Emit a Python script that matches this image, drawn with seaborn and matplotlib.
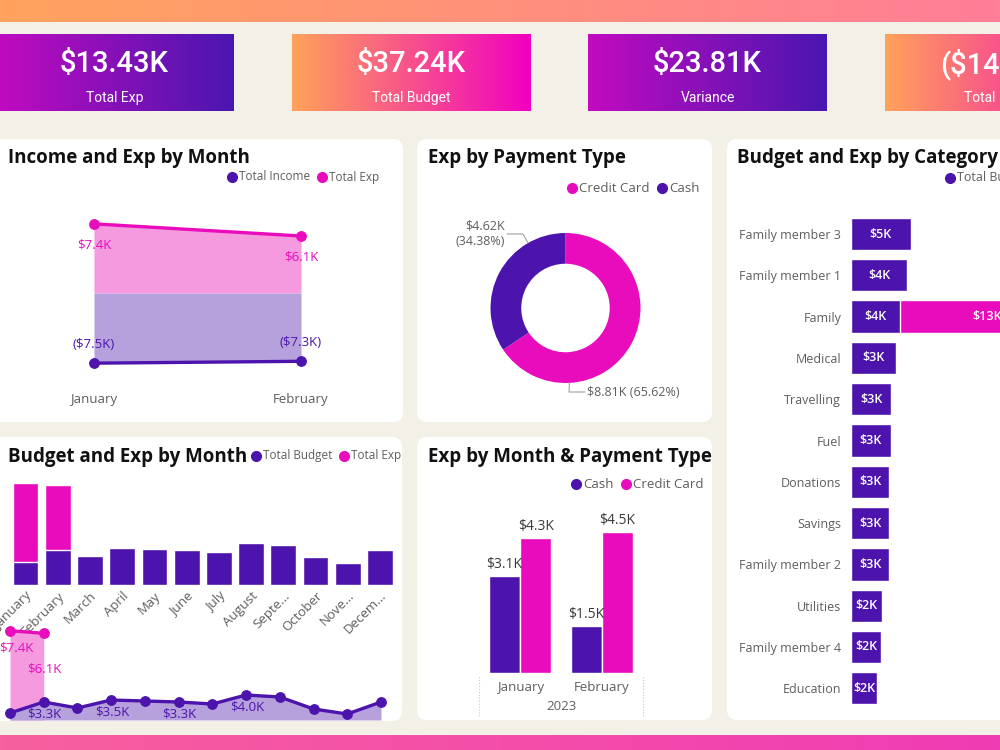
import numpy as np
import pandas as pd
import matplotlib
matplotlib.use("Agg")
import matplotlib.pyplot as plt
import seaborn as sns
from matplotlib import font_manager
from matplotlib.colors import LinearSegmentedColormap
from matplotlib.patches import FancyBboxPatch
from matplotlib.transforms import blended_transform_factory

# ---------------- data (values in $K) ----------------
kpi_labels = ["Total Exp", "Total Budget", "Variance", "Total Income"]
kpi_values = [13.43, 37.24, 23.81, -14.80]

months_2023 = ["January", "February"]
exp_by_month = [7.4, 6.1]
income_by_month = [-7.5, -7.3]

pay_types = ["Credit Card", "Cash"]
pay_totals = [8.813, 4.617]

categories = ["Family member 3", "Family member 1", "Family", "Medical", "Travelling",
              "Fuel", "Donations", "Savings", "Family member 2", "Utilities",
              "Family member 4", "Education"]
cat_budget = [4.6, 4.3, 3.75, 3.45, 3.1, 3.05, 2.95, 2.95, 2.95, 2.4, 2.3, 2.0]
cat_exp = [0, 0, 13.43, 0, 0, 0, 0, 0, 0, 0, 0, 0]

months = ["January", "February", "March", "April", "May", "June", "July",
          "August", "September", "October", "November", "December"]
month_ticks = ["January", "February", "March", "April", "May", "June", "July",
               "August", "Septe...", "October", "Nove...", "Decem..."]
budget_by_month = [2.2, 3.3, 2.7, 3.5, 3.4, 3.3, 3.1, 4.0, 3.8, 2.6, 2.1, 3.3]
exp_by_month_year = [7.4, 6.1, 0, 0, 0, 0, 0, 0, 0, 0, 0, 0]

cash_by_month = [3.1, 1.5]
card_by_month = [4.3, 4.5]

# ---------------- style ----------------
PURPLE = "#4C14AC"
MAGENTA = "#E80CBC"
PINK_FILL = "#F59ADF"
PURPLE_FILL = "#B6A1DD"
GRAY = "#605E5C"
BG = "#F3F0E7"

sns.set_theme(style="white")
plt.rcParams["font.family"] = ["Open Sans", "DejaVu Sans"]

installed = {f.name for f in font_manager.fontManager.ttflist}
if "Liberation Sans Narrow" in installed:
    KPI_FONT, KPI_SIZE, KPI_LAB = ["Liberation Sans Narrow", "DejaVu Sans"], 24, 11
else:
    KPI_FONT, KPI_SIZE, KPI_LAB = ["Roboto", "DejaVu Sans"], 21, 10

W, H = 1000, 750
fig = plt.figure(figsize=(10, 7.5), dpi=100)
fig.patch.set_facecolor(BG)

bg = fig.add_axes([0, 0, 1, 1])
bg.set_axis_off()


def px_axes(x0, y0, x1, y1):
    ax = fig.add_axes([x0 / W, 1 - y1 / H, (x1 - x0) / W, (y1 - y0) / H])
    ax.set_facecolor("none")
    for s in ax.spines.values():
        s.set_visible(False)
    return ax


def gradient(x0, y0, x1, y1, c0, c1, z=1):
    cmap = LinearSegmentedColormap.from_list("g", [c0, c1])
    bg.imshow(np.linspace(0, 1, 256)[None, :], cmap=cmap, aspect="auto",
              extent=(x0, x1, y1, y0), zorder=z)


def money(v, dec=1):
    s = f"${abs(v):.{dec}f}K"
    return f"({s})" if v < 0 else s


# bands
gradient(0, 0, W, 22, "#FFA35E", "#FF7E98")
gradient(0, 735, W, H, "#F7609E", "#F03CB4")

# KPI cards
card_x = [-5, 292, 588, 885]
card_cols = [("#C20BC0", "#4A16B0"), ("#FFA25A", "#F000C0"),
             ("#C20BC0", "#4A16B0"), ("#FFA25A", "#F000C0")]
for x0, (c0, c1), val, lab in zip(card_x, card_cols, kpi_values, kpi_labels):
    gradient(x0, 34, x0 + 239, 111, c0, c1, z=2)
    cx = x0 + 119.5
    bg.text(cx, 64, money(val, 2), color="white", fontsize=KPI_SIZE, ha="center",
            va="center", family=KPI_FONT, fontweight="medium", zorder=3)
    bg.text(cx, 98, lab, color="white", fontsize=KPI_LAB, ha="center", va="center",
            family=KPI_FONT, zorder=3)

# panels
panels = [(-20, 139, 403, 422), (417, 139, 712, 422), (727, 139, 1030, 720),
          (-20, 437, 402, 721), (417, 437, 712, 720)]
for x0, y0, x1, y1 in panels:
    bg.add_patch(FancyBboxPatch((x0, y0), x1 - x0, y1 - y0,
                                boxstyle="round,pad=0,rounding_size=10",
                                fc="white", ec="none", zorder=2))

titles = [(8, 158, "Income and Exp by Month"), (428, 158, "Exp by Payment Type"),
          (737, 158, "Budget and Exp by Category"), (8, 457, "Budget and Exp by Month"),
          (428, 457, "Exp by Month & Payment Type")]
for x, y, t in titles:
    bg.text(x, y, t, fontsize=13.5, fontweight="bold", color="#111111",
            ha="left", va="center", zorder=3)


def legend(items, y, size):
    for x, col, lab in items:
        bg.plot([x], [y], "o", ms=7, color=col, zorder=3)
        bg.text(x + 7, y, lab, fontsize=size, color=GRAY, ha="left", va="center", zorder=3)


legend([(232, PURPLE, "Total Income"), (322, MAGENTA, "Total Exp")], 177, 8.5)
legend([(572, MAGENTA, "Credit Card"), (662, PURPLE, "Cash")], 188, 9.5)
legend([(950, PURPLE, "Total Budget"), (1040, MAGENTA, "Total Exp")], 178, 9)
legend([(256, PURPLE, "Total Budget"), (344, MAGENTA, "Total Exp")], 456, 8.5)
legend([(576, PURPLE, "Cash"), (626, MAGENTA, "Credit Card")], 484, 9.5)

bg.set_xlim(0, W)
bg.set_ylim(H, 0)

# ---------------- chart 1: income and exp area ----------------
ax1 = px_axes(60, 200, 335, 380)
x1 = np.arange(len(months_2023))
ax1.fill_between(x1, 0, exp_by_month, color=PINK_FILL, lw=0)
ax1.fill_between(x1, 0, income_by_month, color=PURPLE_FILL, lw=0)
sns.lineplot(x=x1, y=exp_by_month, ax=ax1, color=MAGENTA, lw=2.4, marker="o",
             ms=7, mec=MAGENTA)
sns.lineplot(x=x1, y=income_by_month, ax=ax1, color=PURPLE, lw=2.4, marker="o",
             ms=7, mec=PURPLE)
for xi, v in zip(x1, exp_by_month):
    ax1.annotate(money(v), (xi, v), xytext=(0, -21), textcoords="offset pixels",
                 ha="center", va="center", color=MAGENTA, fontsize=9.5)
for xi, v in zip(x1, income_by_month):
    ax1.annotate(money(v), (xi, v), xytext=(0, 19), textcoords="offset pixels",
                 ha="center", va="center", color=PURPLE, fontsize=9.5)
ax1.set_xlim(-0.164, 1.164)
ax1.set_ylim(-9.3, 9.95)
ax1.set_xticks(x1, months_2023)
ax1.set_yticks([])
ax1.tick_params(axis="x", length=0, pad=9, labelcolor=GRAY, labelsize=9.5)

# ---------------- chart 2: donut ----------------
ax2 = px_axes(445.5, 188, 685.5, 428)
wedges, _ = ax2.pie(pay_totals, colors=[MAGENTA, PURPLE], startangle=90,
                    counterclock=False, radius=1,
                    wedgeprops=dict(width=0.41, edgecolor="none"))
ax2.set_xlim(-1.6, 1.6)
ax2.set_ylim(-1.6, 1.6)
share = np.array(pay_totals) / sum(pay_totals) * 100
# leader lines: (angle on ring, elbow, end)
for ang, elbow, end, txt, ha in [
        (120, (-0.567, 0.987), (-0.78, 0.987),
         f"{money(pay_totals[1], 2)}\n({share[1]:.2f}%)", "right"),
        (-87, (0.047, -1.12), (0.26, -1.12),
         f"{money(pay_totals[0], 2)} ({share[0]:.2f}%)", "left")]:
    a = np.deg2rad(ang)
    ax2.plot([np.cos(a), elbow[0], end[0]], [np.sin(a), elbow[1], end[1]],
             color="#A0A0A0", lw=0.8)
    ax2.text(end[0] + (-0.03 if ha == "right" else 0.03), end[1], txt, ha=ha,
             va="center", color=GRAY, fontsize=9, linespacing=1.3)

# ---------------- chart 3: budget and exp by category ----------------
ax3 = px_axes(851, 213.35, 1000, 708.95)
cat_total = [b + e for b, e in zip(cat_budget, cat_exp)]
sns.barplot(x=cat_total, y=categories, orient="h", color=MAGENTA, saturation=1,
            width=0.78, ax=ax3)
sns.barplot(x=cat_budget, y=categories, orient="h", color=PURPLE, saturation=1,
            width=0.78, ax=ax3)
for i, (b, e) in enumerate(zip(cat_budget, cat_exp)):
    ax3.text(b / 2, i, money(b, 0), ha="center", va="center", color="white",
             fontsize=9, fontweight="semibold")
    if e > 0:
        ax3.text(b + e / 2, i, money(e, 0), ha="center", va="center",
                 color="white", fontsize=9, fontweight="semibold")
ax3.set_xlim(0, 149 / 13)
ax3.set_ylim(11.5, -0.5)
ax3.set_xticks([])
ax3.set_xlabel("")
ax3.tick_params(axis="y", length=0, pad=7, labelcolor=GRAY, labelsize=9)

# ---------------- chart 4: budget and exp by month ----------------
ax4 = px_axes(9.4, 475, 396.1, 585)
month_total = [b + e for b, e in zip(budget_by_month, exp_by_month_year)]
sns.barplot(x=months, y=month_total, color=MAGENTA, saturation=1, width=0.8, ax=ax4)
sns.barplot(x=months, y=budget_by_month, color=PURPLE, saturation=1, width=0.8, ax=ax4)
ax4.set_xlim(-0.5, 11.5)
ax4.set_ylim(0, 10.38)
ax4.set_yticks([])
ax4.set_xticks(range(12), month_ticks, rotation=45, ha="right",
               rotation_mode="anchor")
ax4.tick_params(axis="x", length=0, pad=3, labelcolor=GRAY, labelsize=9.5)

# lower line/area part (exp and budget on their own scales)
ax4b = px_axes(-6.85, 590, 397.85, 720)
xm = np.arange(12)
exp_lo = -37.25
ax4b.fill_between(xm[:2], exp_lo, exp_by_month_year[:2], color=PINK_FILL, lw=0)
sns.lineplot(x=xm[:2], y=exp_by_month_year[:2], ax=ax4b, color=MAGENTA, lw=2.4,
             marker="o", ms=7, mec=MAGENTA)
for xi, off in zip(xm[:2], [-17, -36]):
    ax4b.annotate(money(exp_by_month_year[xi]), (xi, exp_by_month_year[xi]),
                  xytext=(6 if xi == 0 else 1, off), textcoords="offset pixels",
                  ha="center", va="center", color=MAGENTA, fontsize=9.5)
ax4b.set_xlim(-0.5, 11.5)
ax4b.set_ylim(exp_lo, 27.75)
ax4b.set_xticks([])
ax4b.set_yticks([])

ax4c = ax4b.twinx()
for s in ax4c.spines.values():
    s.set_visible(False)
bud_lo = 1.5
ax4c.fill_between(xm, bud_lo, budget_by_month, color=PURPLE_FILL, lw=0)
sns.lineplot(x=xm, y=budget_by_month, ax=ax4c, color=PURPLE, lw=2.4,
             marker="o", ms=7, mec=PURPLE)
for xi in [1, 3, 5, 7]:
    ax4c.annotate(money(budget_by_month[xi]), (xi, budget_by_month[xi]),
                  xytext=(1, -12), textcoords="offset pixels", ha="center",
                  va="center", color=PURPLE, fontsize=9.5)
ax4c.set_xlim(-0.5, 11.5)
ax4c.set_ylim(bud_lo, 14.5)
ax4c.set_yticks([])

# ---------------- chart 5: exp by month & payment type ----------------
ax5 = px_axes(479.25, 500, 642.75, 673)
df5 = pd.DataFrame({
    "Month": months_2023 * 2,
    "Payment": ["Cash"] * 2 + ["Credit Card"] * 2,
    "Exp": cash_by_month + card_by_month,
})
sns.barplot(df5, x="Month", y="Exp", hue="Payment", hue_order=["Cash", "Credit Card"],
            palette=[PURPLE, MAGENTA], saturation=1, width=0.76, legend=False, ax=ax5)
for cont in ax5.containers:
    ax5.bar_label(cont, labels=[money(v) for v in cont.datavalues], padding=3,
                  color="#3A3A3A", fontsize=10)
ax5.set_xlim(-0.5, 1.5)
ax5.set_ylim(0, 5.53)
ax5.set_yticks([])
ax5.set_ylabel("")
ax5.set_xlabel("2023", color=GRAY, fontsize=9.5, labelpad=4)
ax5.tick_params(axis="x", length=0, pad=6, labelcolor=GRAY, labelsize=9.5)
tr = blended_transform_factory(ax5.transAxes, ax5.transAxes)
ax5.vlines([0, 1], -0.25, -0.012, transform=tr, colors="#C8C8C8", lw=0.8,
           linestyles=":", clip_on=False)

fig.savefig("out.png", dpi=100, facecolor=BG)
